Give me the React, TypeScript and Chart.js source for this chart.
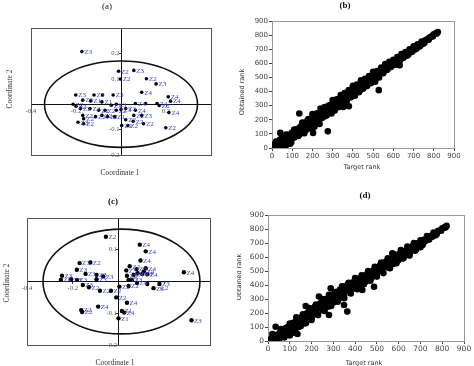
import React, { useEffect, useRef } from "react";
import { Chart, registerables } from "chart.js";
Chart.register(...registerables);

// ---------- Panel (a): PCO ordination ----------
const coordA1 = [-0.174, -0.011, 0.057, -0.003, 0.113, 0.156, 0.092, 0.21, 0.22, 0.064, 0.109, 0.16, 0.17, 0.213, 0.199,
  -0.201, -0.12, -0.082, -0.035, -0.213, -0.2, -0.17, -0.135, -0.085, -0.043, -0.021, 0.0, 0.021, 0.064, 0.057,
  0.092, 0.1, 0.054, 0.021, 0.03, 0.003, -0.028, -0.06, -0.085, -0.113, -0.138, -0.099, -0.071, -0.021, -0.17,
  -0.166, -0.191, -0.166, -0.18];
const coordA2 = [0.207, 0.13, 0.133, 0.099, 0.1, 0.08, 0.047, 0.029, 0.012, 0.003, 0.003, 0.003, -0.005, -0.033, -0.093,
  0.036, 0.036, 0.036, 0.036, 0.0, -0.008, 0.016, 0.013, 0.009, -0.004, 0.0, -0.021, -0.017, -0.024, -0.044,
  -0.044, -0.077, -0.067, -0.061, -0.084, -0.084, -0.049, -0.049, -0.044, -0.049, -0.017, -0.024, -0.024, -0.024, -0.044,
  -0.057, -0.071, -0.077, -0.017];
const groupA = ["Z3", "Z2", "Z3", "Z2", "Z2", "Z3", "Z4", "Z4", "Z4", "Z4", "", "Z4", "Z6", "Z4", "Z2",
  "Z3", "Z3", "", "Z3", "Z2", "Z2", "Z3", "Z1", "Z1", "Z3", "Z3", "Z3", "Z3", "Z4", "Z2",
  "Z3", "Z2", "Z2", "Z2", "Z2", "Z2", "Z1", "Z2", "Z2", "Z2", "Z2", "Z2", "Z2", "Z2", "Z2",
  "Z2", "Z3", "Z2", "Z2"];
const ellipseA = { cx: 0.0, cy: 0.0, rx: 0.34, ry: 0.17 };

// ---------- Panel (c): PCO ordination ----------
const coordC1 = [-0.055, 0.093, 0.119, 0.096, 0.119, 0.111, 0.286, -0.17, -0.123, -0.182, -0.144, -0.096, -0.067, -0.247, -0.252,
  -0.182, -0.156, -0.129, -0.096, -0.081, -0.033, -0.01, 0.004, 0.049, 0.034, 0.079, 0.084, 0.104, 0.126, 0.081,
  0.126, 0.153, 0.179, 0.044, 0.037, -0.089, -0.163, -0.159, 0.015, 0.025, 0.0, 0.319, 0.059, 0.044, -0.207,
  0.037, 0.066];
const coordC2 = [0.141, 0.116, 0.095, 0.066, 0.042, 0.032, 0.029, 0.058, 0.06, 0.037, 0.024, 0.021, 0.016, 0.018, 0.005,
  0.005, -0.011, -0.018, 0.007, -0.029, -0.029, -0.05, -0.016, 0.048, 0.035, 0.039, 0.026, 0.024, 0.023, -0.005,
  -0.008, -0.021, -0.008, -0.014, -0.067, -0.079, -0.09, -0.096, -0.093, -0.098, -0.116, -0.122, 0.005, 0.005, 0.007,
  0.018, 0.021];
const groupC = ["Z2", "Z4", "Z4", "Z4", "Z4", "Z4", "Z4", "Z3", "Z2", "Z3", "Z3", "Z3", "Z3", "Z3", "Z6",
  "Z3", "Z3", "Z2", "Z3", "Z2", "Z2", "Z2", "Z2", "Z2", "Z3", "Z3", "Z4", "Z3", "Z4", "Z4",
  "", "Z6", "Z3", "Z2", "Z4", "Z4", "Z2", "Z2", "Z1", "Z4", "Z1", "Z3", "Z3", "Z1", "Z3",
  "Z2", "Z4"];
const ellipseC = { cx: 0.013, cy: 0.0, rx: 0.343, ry: 0.165 };

// ---------- Panel (b): target vs obtained rank ----------
const pointsB: number[][] = [
  [0, 0], [5, 10], [10, 3], [15, 20], [20, 8], [25, 30], [30, 15], [35, 40], [40, 22], [45, 5], [50, 50], [55, 30], [60, 65], [65, 45], [70, 20],
  [75, 80], [80, 60], [85, 95], [90, 70], [95, 40], [100, 110], [105, 90], [110, 75], [115, 120], [120, 100], [125, 135], [130, 115], [135, 95],
  [140, 150], [145, 130], [150, 160], [155, 140], [160, 120], [165, 180], [170, 160], [175, 195], [180, 175], [185, 155], [190, 205], [195, 185],
  [200, 215], [205, 195], [210, 170], [215, 230], [220, 210], [225, 245], [230, 225], [235, 200], [240, 255], [245, 240], [250, 265], [255, 245],
  [260, 225], [265, 280], [270, 260], [275, 290], [280, 270], [285, 250], [290, 305], [295, 285], [300, 315], [305, 300], [310, 280], [315, 330],
  [320, 315], [325, 340], [330, 320], [335, 305], [340, 355], [345, 340], [350, 365], [355, 350], [360, 330], [365, 380], [370, 365], [375, 395],
  [380, 375], [385, 360], [390, 405], [395, 390], [400, 415], [405, 400], [410, 385], [415, 430], [420, 415], [425, 440], [430, 425], [435, 410],
  [440, 455], [445, 440], [450, 465], [455, 450], [460, 435], [465, 478], [470, 465], [475, 490], [480, 475], [485, 460], [490, 505], [495, 490],
  [500, 515], [505, 500], [510, 485], [515, 530], [520, 515], [525, 540], [530, 525], [540, 550], [545, 535], [550, 560], [555, 545], [560, 570],
  [565, 555], [570, 580], [575, 568], [580, 592], [585, 575], [590, 600], [595, 588], [600, 612], [605, 598], [610, 620], [615, 605], [620, 630],
  [630, 640], [635, 625], [640, 650], [645, 638], [650, 660], [660, 668], [665, 655], [670, 678], [675, 665], [680, 690], [690, 695], [695, 685],
  [700, 708], [710, 715], [715, 705], [720, 725], [730, 735], [735, 728], [740, 745], [750, 752], [755, 748], [760, 765], [770, 772], [775, 768],
  [780, 785], [790, 792], [795, 790], [800, 805], [810, 812], [815, 812], [820, 822],
  [10, 25], [30, 0], [50, 75], [70, 95], [90, 30], [20, 45], [40, 60], [60, 15], [80, 30], [100, 70], [110, 130], [130, 85], [150, 180],
  [160, 105], [170, 130], [180, 205], [190, 165], [200, 240], [210, 150], [220, 245], [230, 190], [240, 280], [250, 215], [260, 290],
  [270, 230], [280, 300], [290, 260], [300, 340], [310, 265], [320, 345], [330, 290], [340, 375], [350, 320], [360, 390], [370, 335],
  [380, 410], [390, 360], [400, 440], [410, 370], [420, 450], [430, 395], [440, 480], [450, 420], [460, 490], [470, 440], [480, 510],
  [490, 460], [500, 540], [510, 470], [520, 545], [530, 500], [540, 570], [550, 530], [560, 595], [570, 555], [580, 610], [590, 575],
  [600, 625], [610, 590], [620, 645], [630, 615], [640, 665], [650, 640], [660, 680], [670, 655], [680, 700], [690, 680], [700, 720],
  [710, 700], [720, 735], [730, 720], [740, 755], [750, 740],
  [41, 107], [135, 244], [149, 106], [203, 107], [276, 118], [294, 244], [352, 291], [380, 296], [528, 410], [631, 587], [190, 140], [235, 170],
];

// ---------- Panel (d): target vs obtained rank ----------
const pointsD: number[][] = [
  [0, 0], [5, 8], [10, 2], [15, 15], [20, 25], [25, 5], [30, 35], [35, 18], [40, 45], [45, 28], [50, 10], [55, 60], [60, 40], [65, 70], [70, 50],
  [75, 25], [80, 90], [85, 65], [90, 100], [95, 75], [100, 45], [105, 115], [110, 90], [115, 130], [120, 105], [125, 80], [130, 145], [135, 120],
  [140, 160], [145, 135], [150, 105], [155, 170], [160, 150], [165, 185], [170, 160], [175, 130], [180, 200], [185, 175], [190, 215], [195, 190],
  [200, 165], [205, 230], [210, 205], [215, 245], [220, 220], [225, 190], [230, 255], [235, 235], [240, 270], [245, 245], [250, 220], [255, 285],
  [260, 260], [265, 300], [270, 275], [275, 245], [280, 310], [285, 290], [290, 325], [295, 300], [300, 275], [305, 340], [310, 315], [315, 350],
  [320, 330], [325, 300], [330, 365], [335, 345], [340, 378], [345, 355], [350, 330], [355, 390], [360, 370], [365, 400], [370, 382], [375, 355],
  [380, 410], [385, 392], [390, 420], [395, 400], [400, 375], [405, 430], [410, 412], [415, 445], [420, 425], [425, 400], [430, 455], [435, 440],
  [440, 465], [445, 448], [450, 425], [455, 478], [460, 460], [465, 490], [470, 472], [475, 450], [480, 500], [485, 485], [490, 515], [495, 495],
  [500, 475], [505, 528], [510, 510], [515, 540], [520, 522], [525, 500], [530, 552], [535, 535], [540, 565], [545, 545], [550, 525], [555, 575],
  [560, 558], [565, 588], [570, 570], [575, 550], [580, 600], [585, 585], [590, 612], [595, 595], [600, 578], [605, 622], [610, 608], [615, 635],
  [620, 615], [625, 600], [630, 645], [635, 630], [640, 655], [645, 640], [650, 625], [655, 665], [660, 650], [665, 678], [670, 660], [675, 645],
  [680, 690], [685, 675], [690, 700], [695, 685], [700, 670], [705, 712], [710, 700], [715, 722], [720, 710], [730, 735], [735, 725], [740, 745],
  [750, 752], [755, 745], [760, 765], [770, 770], [775, 765], [780, 785], [790, 790], [795, 788], [800, 805], [810, 812], [815, 810], [820, 822],
  [20, 50], [40, 10], [60, 85], [80, 45], [100, 125], [110, 60], [130, 170], [140, 100], [160, 190], [170, 125], [190, 235], [200, 150],
  [220, 260], [230, 185], [250, 300], [260, 215], [280, 330], [290, 250], [310, 350], [320, 280], [340, 390], [350, 305], [370, 415],
  [380, 340], [400, 450], [410, 370], [430, 470], [440, 405], [460, 500], [470, 430], [490, 530], [500, 460], [520, 560], [530, 485],
  [550, 590], [560, 520], [580, 620], [590, 555], [610, 650], [620, 590], [640, 675], [650, 610], [670, 700], [680, 655], [700, 720],
  [710, 685], [730, 750], [740, 725], [760, 775], [770, 755],
  [35, 102], [135, 50], [280, 186], [364, 210], [349, 257], [288, 376], [433, 364], [487, 388], [571, 626], [173, 250], [234, 317], [100, 40], [120, 60],
];

const rankMin = 0;
const rankMax = 900;
const rankStep = 100;

const SERIF = "'Liberation Serif', 'Times New Roman', serif";
const SANS = "'DejaVu Sans', Verdana, sans-serif";

type TextItem = { text: string; x: number; y: number; font: string; color: string; rotate?: boolean };

function textPlugin(items: TextItem[]) {
  return {
    id: "texts",
    afterDraw(chart: any) {
      const ctx = chart.ctx;
      items.forEach((t) => {
        ctx.save();
        ctx.font = t.font;
        ctx.fillStyle = t.color;
        ctx.textAlign = "center";
        ctx.textBaseline = "middle";
        ctx.translate(t.x, t.y);
        if (t.rotate) ctx.rotate(-Math.PI / 2);
        ctx.fillText(t.text, 0, 0);
        ctx.restore();
      });
    },
  };
}

function framePlugin(color: string) {
  return {
    id: "frame",
    beforeDatasetsDraw(chart: any) {
      const { ctx, chartArea: a } = chart;
      ctx.save();
      ctx.strokeStyle = color;
      ctx.lineWidth = 1;
      ctx.strokeRect(Math.round(a.left) + 0.5, Math.round(a.top) + 0.5, Math.round(a.right - a.left), Math.round(a.bottom - a.top));
      ctx.restore();
    },
  };
}

function ellipsePlugin(e: { cx: number; cy: number; rx: number; ry: number }) {
  return {
    id: "ellipse",
    beforeDatasetsDraw(chart: any) {
      const { ctx } = chart;
      const xs = chart.scales.x;
      const ys = chart.scales.y;
      const cx = xs.getPixelForValue(e.cx);
      const cy = ys.getPixelForValue(e.cy);
      const rx = Math.abs(xs.getPixelForValue(e.cx + e.rx) - cx);
      const ry = Math.abs(ys.getPixelForValue(e.cy + e.ry) - cy);
      ctx.save();
      ctx.beginPath();
      ctx.ellipse(cx, cy, rx, ry, 0, 0, Math.PI * 2);
      ctx.lineWidth = 1.6;
      ctx.strokeStyle = "#111";
      ctx.stroke();
      ctx.restore();
    },
  };
}

function labelPlugin(groups: string[]) {
  return {
    id: "pointLabels",
    afterDatasetsDraw(chart: any) {
      const { ctx } = chart;
      const meta = chart.getDatasetMeta(0);
      ctx.save();
      ctx.font = `7px ${SERIF}`;
      ctx.fillStyle = "#3c3cc8";
      ctx.textAlign = "left";
      ctx.textBaseline = "middle";
      meta.data.forEach((el: any, i: number) => {
        if (groups[i]) ctx.fillText(groups[i], el.x + 2.5, el.y + 0.5);
      });
      ctx.restore();
    },
  };
}

function fmt1(v: number) {
  return (Math.round(v * 10) / 10).toFixed(1);
}

function pcoConfig(xs: number[], ys: number[], groups: string[], ell: any, yMax: number, pad: any, texts: TextItem[], radius: number) {
  const tickFont = { family: SERIF, size: 6.5 };
  return {
    type: "scatter",
    data: {
      datasets: [
        {
          data: xs.map((x, i) => ({ x, y: ys[i] })),
          pointRadius: radius,
          pointBackgroundColor: "#000",
          pointBorderWidth: 0,
        },
      ],
    },
    options: {
      animation: false,
      responsive: false,
      maintainAspectRatio: false,
      layout: { padding: pad },
      plugins: { legend: { display: false }, tooltip: { enabled: false }, title: { display: false } },
      scales: {
        x: {
          type: "linear",
          min: -0.4,
          max: 0.4,
          position: { y: 0 },
          ticks: {
            stepSize: 0.2,
            autoSkip: false,
            maxRotation: 0,
            font: tickFont,
            color: "#555",
            padding: 1,
            callback: (v: number) => (Math.abs(v) < 1e-6 || v > 0.35 ? "" : fmt1(v)),
          },
          grid: { drawOnChartArea: false, tickLength: 2, color: "#333" },
          border: { color: "#111", width: 1 },
        },
        y: {
          type: "linear",
          min: -0.2,
          max: yMax,
          position: { x: 0 },
          ticks: {
            stepSize: 0.1,
            autoSkip: false,
            font: tickFont,
            color: "#555",
            padding: 1,
            callback: (v: number) => (Math.abs(v) < 1e-6 || v > yMax - 0.05 ? "" : fmt1(v) + " "),
          },
          grid: { drawOnChartArea: false, tickLength: 2, color: "#333" },
          border: { color: "#111", width: 1 },
        },
      },
    },
    plugins: [framePlugin("#555"), ellipsePlugin(ell), labelPlugin(groups), textPlugin(texts)],
  };
}

function rankConfig(points: number[][], pad: any, yWidth: number, xHeight: number, fontSize: number, radius: number, texts: TextItem[]) {
  const tickFont = { family: SANS, size: fontSize };
  const common = {
    type: "linear",
    min: rankMin,
    max: rankMax,
    grid: { drawOnChartArea: false, tickLength: 3, color: "#444" },
    border: { color: "#222", width: 1 },
  };
  return {
    type: "scatter",
    data: {
      datasets: [
        {
          data: points.map((p) => ({ x: p[0], y: p[1] })),
          pointRadius: radius,
          pointBackgroundColor: "#000",
          pointBorderWidth: 0,
        },
      ],
    },
    options: {
      animation: false,
      responsive: false,
      maintainAspectRatio: false,
      layout: { padding: pad },
      plugins: { legend: { display: false }, tooltip: { enabled: false } },
      scales: {
        x: {
          ...common,
          position: "bottom",
          ticks: { stepSize: rankStep, autoSkip: false, maxRotation: 0, font: tickFont, color: "#444", padding: 1 },
          afterFit: (s: any) => {
            s.height = xHeight;
          },
        },
        y: {
          ...common,
          position: "left",
          ticks: { stepSize: rankStep, autoSkip: false, font: tickFont, color: "#444", padding: 1 },
          afterFit: (s: any) => {
            s.width = yWidth;
          },
        },
      },
    },
    plugins: [framePlugin("#999"), textPlugin(texts)],
  };
}

function Panel({ left, top, width, height, build }: { left: number; top: number; width: number; height: number; build: () => any }) {
  const ref = useRef<HTMLCanvasElement>(null);
  useEffect(() => {
    const chart = new Chart(ref.current as HTMLCanvasElement, build());
    return () => chart.destroy();
  }, []);
  return (
    <div style={{ position: "absolute", left, top, width, height, overflow: "hidden" }}>
      <canvas ref={ref} width={width} height={height} style={{ width, height, display: "block" }} />
    </div>
  );
}

export default function App() {
  return (
    <div style={{ position: "absolute", left: 0, top: 0, width: 474, height: 366, background: "#fff", overflow: "hidden" }}>
      <Panel
        left={0}
        top={0}
        width={237}
        height={180}
        build={() =>
          pcoConfig(coordA1, coordA2, groupA, ellipseA, 0.3, { left: 31, right: 26, top: 28, bottom: 25 }, [
            { text: "(a)", x: 107, y: 7, font: `9px ${SERIF}`, color: "#111" },
            { text: "Coordinate 1", x: 120, y: 173, font: `7.5px ${SERIF}`, color: "#333" },
            { text: "Coordinate 2", x: 10, y: 89, font: `7.5px ${SERIF}`, color: "#333", rotate: true },
          ], 1.8)
        }
      />
      <Panel
        left={237}
        top={0}
        width={237}
        height={180}
        build={() =>
          rankConfig(pointsB, { left: 0, right: 20, top: 21, bottom: 0 }, 35, 32, 7, 3.3, [
            { text: "(b)", x: 108, y: 6, font: `bold 9px ${SERIF}`, color: "#111" },
            { text: "Target rank", x: 125, y: 167, font: `6.5px ${SANS}`, color: "#333" },
            { text: "Obtained rank", x: 5, y: 92, font: `6.5px ${SANS}`, color: "#333", rotate: true },
          ])
        }
      />
      <Panel
        left={0}
        top={180}
        width={237}
        height={186}
        build={() =>
          pcoConfig(coordC1, coordC2, groupC, ellipseC, 0.2, { left: 27, right: 27, top: 38, bottom: 21 }, [
            { text: "(c)", x: 113, y: 22, font: `bold 9px ${SERIF}`, color: "#111" },
            { text: "Coordinate 1", x: 115, y: 183, font: `7.5px ${SERIF}`, color: "#333" },
            { text: "Coordinate 2", x: 7, y: 103, font: `7.5px ${SERIF}`, color: "#333", rotate: true },
          ], 2.2)
        }
      />
      <Panel
        left={237}
        top={180}
        width={237}
        height={186}
        build={() =>
          rankConfig(pointsD, { left: 0, right: 10, top: 35, bottom: 0 }, 31, 25, 7.5, 3.3, [
            { text: "(d)", x: 128, y: 16, font: `bold 9px ${SERIF}`, color: "#111" },
            { text: "Target rank", x: 127, y: 183, font: `6.5px ${SANS}`, color: "#333" },
            { text: "Obtained rank", x: 2, y: 97, font: `6.5px ${SANS}`, color: "#333", rotate: true },
          ])
        }
      />
    </div>
  );
}
